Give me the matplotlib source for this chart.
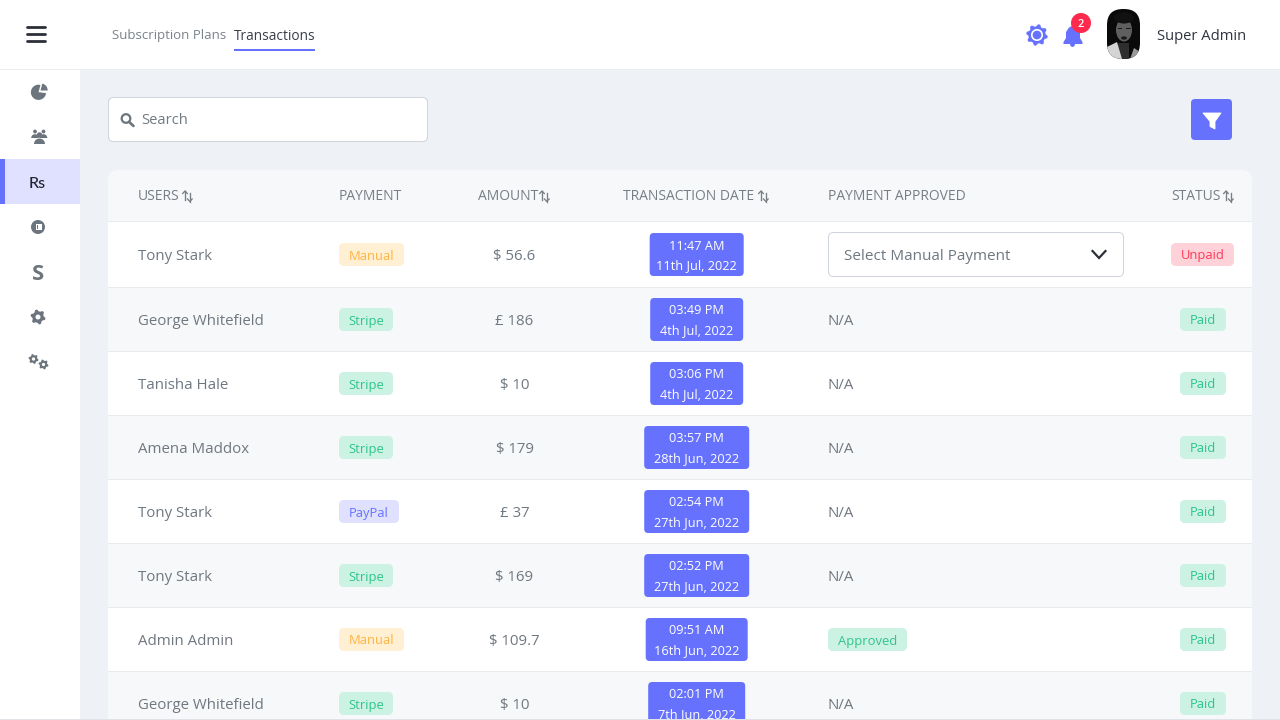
import numpy as np
import matplotlib
matplotlib.use("Agg")
import matplotlib.pyplot as plt
from matplotlib.patches import FancyBboxPatch, Rectangle, Circle, Wedge, Polygon, Ellipse

# ---------- data ----------
nav_tabs = ["Subscription Plans", "Transactions"]
user_name = "Super Admin"
notif_count = "2"
search_hint = "Search"
headers = ["USERS", "PAYMENT", "AMOUNT", "TRANSACTION DATE", "PAYMENT APPROVED", "STATUS"]
users = ["Tony Stark", "George Whitefield", "Tanisha Hale", "Amena Maddox",
         "Tony Stark", "Tony Stark", "Admin Admin", "George Whitefield"]
payments = ["Manual", "Stripe", "Stripe", "Stripe", "PayPal", "Stripe", "Manual", "Stripe"]
amounts = ["$ 56.6", "£ 186", "$ 10", "$ 179", "£ 37", "$ 169", "$ 109.7", "$ 10"]
times = ["11:47 AM", "03:49 PM", "03:06 PM", "03:57 PM", "02:54 PM", "02:52 PM", "09:51 AM", "02:01 PM"]
dates = ["11th Jul, 2022", "4th Jul, 2022", "4th Jul, 2022", "28th Jun, 2022",
         "27th Jun, 2022", "27th Jun, 2022", "16th Jun, 2022", "7th Jun, 2022"]
approved = ["Select Manual Payment", "N/A", "N/A", "N/A", "N/A", "N/A", "Approved", "N/A"]
status = ["Unpaid", "Paid", "Paid", "Paid", "Paid", "Paid", "Paid", "Paid"]

# ---------- layout ----------
row_tops = [222, 288, 352, 416, 480, 544, 608, 672]
row_bots = [287, 351, 415, 479, 543, 607, 671, 735]
date_half = [47, 46.5, 46.5, 52.5, 52.5, 52.5, 51, 48.5]
pay_w = {"Manual": 65, "Stripe": 54, "PayPal": 60}
pay_style = {"Manual": ("#fff0d4", "#ffb340"), "Stripe": ("#ccf2e3", "#2fc48d"), "PayPal": ("#dfe1ff", "#6672fb")}
stat_style = {"Unpaid": ("#ffd1d9", "#ff3a58", 1202.5, 63), "Paid": ("#ccf2e3", "#2fc48d", 1203, 46)}
header_x = [138, 339, 478, 623, 828, 1171]
sort_x = [187, None, 544, 763, None, 1228]

BLUE = "#6672fd"
GREY = "#6f7780"
ICON = "#6c757d"
FONT = "Open Sans"
PX = 72 / 100

fig = plt.figure(figsize=(12.8, 7.2), dpi=100, facecolor="#eef1f6")
ax = fig.add_axes([0, 0, 1, 1])
ax.set_xlim(0, 1280)
ax.set_ylim(720, 0)
ax.axis("off")


def T(x, y, s, px=14.5, c=GREY, ha="left", weight="normal", fam=FONT, z=5):
    return ax.text(x, y, s, fontsize=px * PX, color=c, ha=ha, va="center_baseline",
                   fontweight=weight, family=fam, zorder=z)


def R(x0, y0, x1, y1, c, z=1):
    ax.add_patch(Rectangle((x0, y0), x1 - x0, y1 - y0, fc=c, ec="none", zorder=z))


def RB(x0, y0, x1, y1, fc, r=4, ec="none", lw=0, z=3):
    p = FancyBboxPatch((x0 + r, y0 + r), x1 - x0 - 2 * r, y1 - y0 - 2 * r,
                       boxstyle=f"round,pad={r},rounding_size={r}", fc=fc, ec=ec, lw=lw, zorder=z,
                       mutation_aspect=1)
    ax.add_patch(p)
    return p


def gear(cx, cy, r, teeth=6, c=ICON, hole=0.4, hc="white", z=4, depth=0.76):
    n = teeth * 4
    ang = np.linspace(0, 2 * np.pi, n, endpoint=False) + np.pi / n
    rad = np.array([r, r, r * depth, r * depth] * teeth)
    ax.add_patch(Polygon(np.c_[cx + rad * np.cos(ang), cy + rad * np.sin(ang)], fc=c, ec="none", zorder=z))
    if hole > 0:
        ax.add_patch(Circle((cx, cy), r * hole, fc=hc, ec="none", zorder=z + 0.1))


def sort_arrows(sx):
    c = "#767e86"
    ux, dx = sx - 2.0, sx + 2.8
    ax.plot([ux, ux], [191, 199.5], color=c, lw=0.95, zorder=5)
    ax.plot([ux - 2.3, ux, ux + 2.3], [193.5, 191, 193.5], color=c, lw=0.95, zorder=5)
    ax.plot([dx, dx], [193, 201.5], color=c, lw=0.95, zorder=5)
    ax.plot([dx - 2.3, dx, dx + 2.3], [199, 201.5, 199], color=c, lw=0.95, zorder=5)


# ---------- page chrome ----------
R(0, 0, 1280, 69, "white", 2)
R(0, 69, 1280, 70, "#e9ecf1", 2)
R(0, 70, 80, 720, "white", 2)
R(0, 719, 1280, 720, "#dfe2e7", 9)

for yy in (26.5, 34, 41):
    ax.plot([27, 44.5], [yy, yy], color="#2b3038", lw=2.0, solid_capstyle="round", zorder=4)

T(112, 34.5, nav_tabs[0], 13.2, "#7b838c")
T(234, 34.5, nav_tabs[1], 13.7, "#3a3f4a")
R(234, 49, 315, 51, BLUE, 4)

# top-right icons
gear(1037, 35, 10.8, teeth=8, c=BLUE, hole=0, depth=0.8)
ax.add_patch(Circle((1037, 35), 5.2, fc="none", ec="white", lw=1.2, zorder=4.2))
ax.add_patch(Polygon([[1063.5, 42], [1066, 38], [1066, 32], [1069, 27.5], [1073, 25.5], [1077, 27.5],
                      [1080, 32], [1080, 38], [1082.5, 42], [1082.5, 44], [1063.5, 44]], fc=BLUE, ec="none", zorder=4))
ax.add_patch(Circle((1072.5, 44.5), 2.4, fc=BLUE, ec="none", zorder=4))
ax.add_patch(Circle((1081, 23), 10, fc="#ff2b4e", ec="none", zorder=5))
T(1081, 23, notif_count, 11, "white", ha="center", weight="semibold", z=6)

# avatar
clip = RB(1107, 9, 1140, 59, "#0a0a0a", r=16, z=4)
for art in [Ellipse((1124, 30), 16, 23, fc="#5f5f5f", ec="none", zorder=4.1),
            Polygon([[1107, 59], [1107, 47], [1117, 42], [1122, 59]], fc="#d4d4d4", ec="none", zorder=4.2),
            Polygon([[1130, 59], [1134, 48], [1140, 52], [1140, 59]], fc="#9a9a9a", ec="none", zorder=4.2),
            Rectangle((1118, 43), 11, 16, fc="#2e2e2e", ec="none", zorder=4.15),
            Ellipse((1124, 18), 20, 11, fc="#111111", ec="none", zorder=4.3),
            Rectangle((1117.5, 27.5), 4.5, 1.6, fc="#1a1a1a", ec="none", zorder=4.4),
            Rectangle((1126, 27.5), 4.5, 1.6, fc="#1a1a1a", ec="none", zorder=4.4),
            Ellipse((1124, 38), 6, 3.4, fc="#1d1d1d", ec="none", zorder=4.4)]:
    ax.add_patch(art)
    art.set_clip_path(clip)
T(1157, 34, user_name, 14.8, "#2e3440")

# sidebar
R(0, 159, 80, 204, "#dfe1ff", 3)
R(0, 159, 5, 204, BLUE, 4)
ax.add_patch(Wedge((38.5, 92.3), 7.6, 0, 285, fc=ICON, ec="none", zorder=4))
ax.add_patch(Wedge((40.5, 90.5), 7.2, -75, 0, fc=ICON, ec="none", zorder=4))
ax.plot([40, 47], [91.5, 93], color="white", lw=0.7, zorder=4.1)
for cx, r in [(35, 1.9), (43.5, 1.9)]:
    ax.add_patch(Circle((cx, 131.5), r, fc=ICON, ec="none", zorder=4))
    ax.add_patch(Wedge((cx, 138), 3.8, 180, 360, fc=ICON, ec="none", zorder=4))
ax.add_patch(Circle((39.5, 135), 2.7, fc=ICON, ec="none", zorder=4.1))
ax.add_patch(Wedge((39.5, 144), 5.5, 180, 360, fc=ICON, ec="none", zorder=4.1))
T(37, 182, "Rs", 16, "#20242e", ha="center", weight="medium", fam="Lato")
ax.add_patch(Circle((38, 227), 7, fc=ICON, ec="none", zorder=4))
R(36, 224, 41.5, 230, "white", 4.1)
R(37.2, 225, 38, 229, ICON, 4.2)
T(38, 272.5, "S", 22, ICON, ha="center", weight="bold")
gear(38, 317, 7.5, teeth=6, hole=0.33)
gear(33.5, 359, 5, teeth=6, hole=0.33)
gear(43.5, 364.5, 5, teeth=6, hole=0.33)

# search and filter
RB(108.5, 97.5, 427.5, 141.5, "white", r=5, ec="#ced4da", lw=0.72)
ax.add_patch(Circle((126, 118.5), 4.3, fc="none", ec=ICON, lw=1.6, zorder=5))
ax.plot([129.2, 133.5], [122, 126], color=ICON, lw=1.9, solid_capstyle="round", zorder=5)
T(141, 119, search_hint, 14.8, "#727a82")
RB(1191, 99, 1232, 140, BLUE, r=4)
ax.add_patch(Polygon([[1203, 113], [1221, 113], [1215, 121.5], [1215, 129], [1210, 126.5], [1210, 121.5]],
                     fc="white", ec="white", lw=0.6, joinstyle="round", zorder=5))

# table
RB(108, 170, 1252, 780, "#f7f8fa", r=10, z=1.5)
R(108, 221, 1252, 222, "#e9ecef", 2)
for i, (top, bot) in enumerate(zip(row_tops, row_bots)):
    R(108, top, 1252, bot, "white" if i % 2 == 0 else "#f7f8fa", 2)
    R(108, bot, 1252, bot + 1, "#e9ecef", 2.1)

for h, hx, sx in zip(headers, header_x, sort_x):
    T(hx, 195, h, 13.9, "#767e86")
    if sx is not None:
        sort_arrows(sx)

for i, (top, bot) in enumerate(zip(row_tops, row_bots)):
    yc = (top + bot) / 2 if i < 7 else 703.5
    T(138, yc, users[i], 15, "#6f7780")
    w = pay_w[payments[i]]
    bg, fg = pay_style[payments[i]]
    RB(339, yc - 11.5, 339 + w, yc + 11.5, bg, r=5)
    T(339 + w / 2, yc, payments[i], 13, fg, ha="center")
    T(514.5, yc, amounts[i], 15, "#6f7780", ha="center")
    hw = date_half[i]
    RB(696.7 - hw, yc - 21.5, 696.7 + hw, yc + 21.5, BLUE, r=4)
    T(696.7, yc - 10, times[i], 12.8, "white", ha="center", weight="medium")
    T(696.7, yc + 10, dates[i], 12.8, "white", ha="center", weight="medium")
    if approved[i] == "N/A":
        T(827.5, yc, approved[i], 15, "#6f7780")
    elif approved[i] == "Approved":
        RB(828, yc - 11.5, 907, yc + 11.5, "#ccf2e3", r=5)
        T(867.5, yc, approved[i], 13, "#2fc48d", ha="center")
    else:
        RB(828.5, yc - 22, 1123.5, yc + 22, "white", r=5, ec="#ced4da", lw=0.72)
        T(844, yc, approved[i], 15.2, "#6f7780")
        ax.plot([1092.5, 1099, 1105.5], [yc - 3.5, yc + 3.5, yc - 3.5], color="#2b3038", lw=1.6,
                solid_joinstyle="miter", zorder=5)
    bg, fg, cx, w = stat_style[status[i]]
    RB(cx - w / 2, yc - 11.5, cx + w / 2, yc + 11.5, bg, r=5)
    T(cx, yc, status[i], 13, fg, ha="center")

fig.savefig("out.png", dpi=100, facecolor=fig.get_facecolor())
